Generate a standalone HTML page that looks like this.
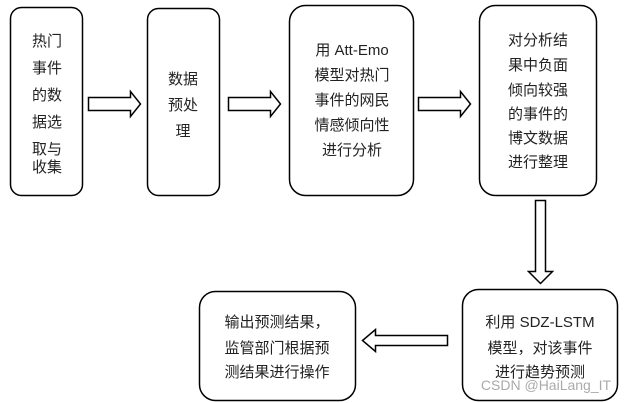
<!DOCTYPE html>
<html><head><meta charset="utf-8"><style>body{margin:0;background:#fff}svg{display:block}text{font-family:"Liberation Sans","Noto Sans CJK SC",sans-serif;font-size:15px;fill:#222;text-anchor:middle}</style></head><body>
<svg width="630" height="403" viewBox="0 0 630 403" xmlns="http://www.w3.org/2000/svg">
<g fill="#fff" stroke="#000" stroke-width="1.5">
<rect x="10.5" y="7.5" width="72" height="188" rx="11"/>
<rect x="147.5" y="8.5" width="72" height="187" rx="11"/>
<rect x="289.5" y="5.5" width="124" height="190" rx="16"/>
<rect x="479.5" y="5.5" width="117" height="190" rx="16"/>
<rect x="462.5" y="289.5" width="155" height="111" rx="16"/>
<rect x="199.5" y="291.5" width="156" height="109" rx="16"/>
<polygon points="88.5,97.5 130.5,97.5 130.5,91.5 140.5,104 130.5,116.5 130.5,110.5 88.5,110.5"/>
<polygon points="228.5,97.5 270.5,97.5 270.5,91.5 280.5,104 270.5,116.5 270.5,110.5 228.5,110.5"/>
<polygon points="418.5,97.5 460.5,97.5 460.5,91.5 470.5,104 460.5,116.5 460.5,110.5 418.5,110.5"/>
<polygon points="535.5,200.5 545.5,200.5 545.5,271.5 552.5,271.5 540.5,283.5 528.5,271.5 535.5,271.5"/>
<polygon points="447.5,335.5 447.5,345.5 375.5,345.5 375.5,351.5 362.5,340.5 375.5,329.5 375.5,335.5"/>
</g>
<g>
<text x="47" y="46">热门</text><text x="47" y="73">事件</text><text x="47" y="100">的数</text><text x="47" y="127">据选</text><text x="47" y="154">取与</text><text x="47" y="172" dy="0">收集</text>
<text x="183" y="84">数据</text><text x="183" y="110">预处</text><text x="183" y="136">理</text>
<text x="352" y="55">用 Att-Emo</text><text x="352" y="80">模型对热门</text><text x="352" y="105">事件的网民</text><text x="352" y="130">情感倾向性</text><text x="352" y="155">进行分析</text>
<text x="538" y="45">对分析结</text><text x="538" y="70">果中负面</text><text x="538" y="95">倾向较强</text><text x="538" y="119">的事件的</text><text x="538" y="143">博文数据</text><text x="538" y="167">进行整理</text>
<text x="540" y="327">利用 SDZ-LSTM</text><text x="540" y="353">模型，对该事件</text><text x="540" y="377">进行趋势预测</text>
<text x="277" y="327">输出预测结果，</text><text x="277" y="353">监管部门根据预</text><text x="277" y="377">测结果进行操作</text>
<text x="546" y="390" style="fill:#aaa;font-size:14px">CSDN @HaiLang_IT</text>
</g>
</svg>
</body></html>
